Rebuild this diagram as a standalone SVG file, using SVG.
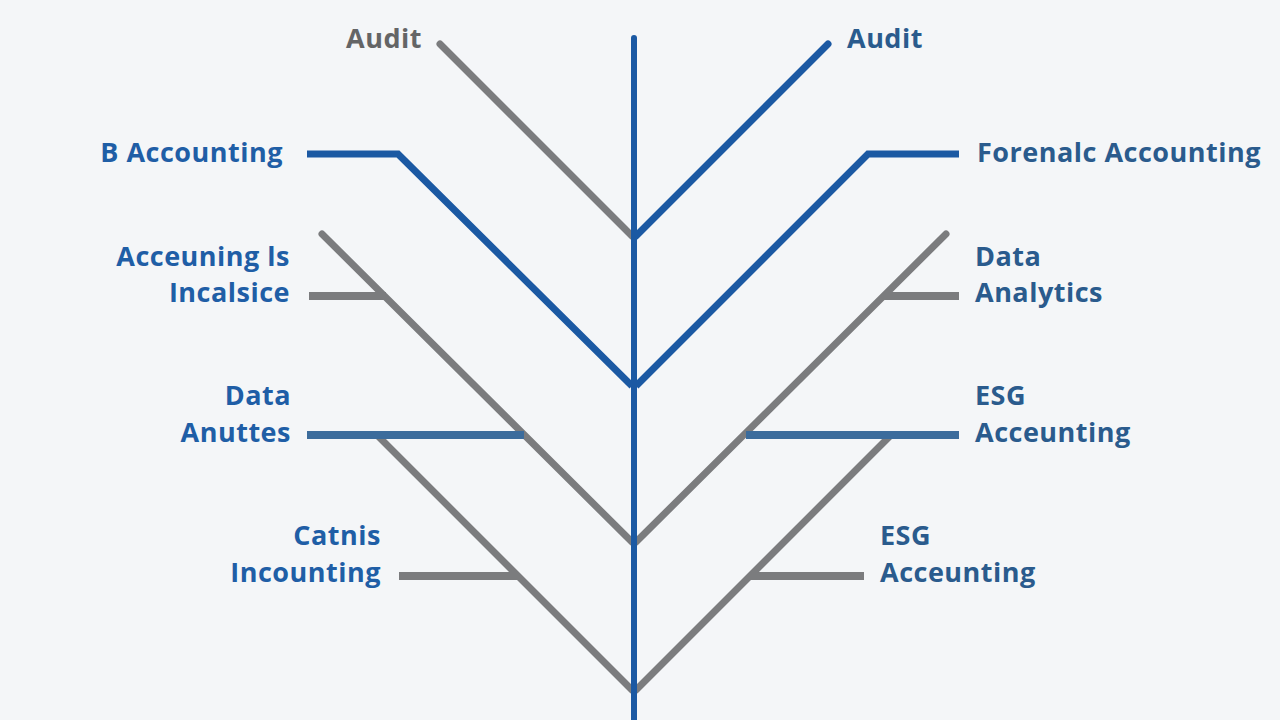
<svg xmlns="http://www.w3.org/2000/svg" width="1280" height="720" viewBox="0 0 1280 720">
<style>
.bl{fill:none;stroke:#1b59a3;stroke-width:7;stroke-linecap:round;stroke-linejoin:miter}
.gr{fill:none;stroke:#7b7c7e;stroke-width:7;stroke-linecap:round}
.bg{fill:none;stroke:#3c6c9c;stroke-width:8;stroke-linecap:butt}
.grh{fill:none;stroke:#7b7c7e;stroke-width:8;stroke-linecap:butt}
text{font-family:"Open Sans","Noto Sans","Liberation Sans",sans-serif;font-weight:700;font-size:27px;letter-spacing:0.5px}
.tl{fill:#1f5ea6}
.tr{fill:#2a5b8d}
.tg{fill:#646566}
</style>
<rect width="1280" height="720" fill="#f4f6f8"/>
<g id="connectors">
<line class="gr" x1="440" y1="44" x2="632" y2="236"/>
<line class="gr" x1="322" y1="234" x2="632" y2="542"/>
<line class="gr" x1="378" y1="436" x2="632" y2="690"/>
<line class="gr" x1="946" y1="234" x2="636" y2="542"/>
<line class="gr" x1="890" y1="436" x2="636" y2="690"/>
<line class="grh" x1="309" y1="296" x2="386" y2="296"/>
<line class="grh" x1="399" y1="576" x2="518" y2="576"/>
<line class="grh" x1="959" y1="296" x2="884" y2="296"/>
<line class="grh" x1="864" y1="576" x2="751" y2="576"/>
<line class="bg" x1="307" y1="435" x2="524" y2="435"/>
<line class="bg" x1="959" y1="435" x2="746" y2="435"/>
<line class="bl" x1="828" y1="44" x2="636" y2="236"/>
<polyline class="bl" points="307,154 398,154 632,386" style="stroke-linecap:butt"/>
<polyline class="bl" points="959,154 868,154 636,386" style="stroke-linecap:butt"/>
<line class="bl" x1="634" y1="38" x2="634" y2="720" style="stroke-width:6"/>
</g>
<g id="n-audit-left"><text class="tg" x="422" y="48" text-anchor="end">Audit</text></g>
<g id="n-audit-right"><text class="tr" x="847" y="48">Audit</text></g>
<g id="n-b-accounting"><text class="tl" x="283" y="162" text-anchor="end" font-size="28">B Accounting</text></g>
<g id="n-forensic"><text class="tr" x="977" y="162">Forenalc Accounting</text></g>
<g id="n-acceuning"><text class="tl" x="290" y="266" text-anchor="end">Acceuning ls</text><text class="tl" x="290" y="302" text-anchor="end">Incalsice</text></g>
<g id="n-data-left"><text class="tl" x="291" y="405" text-anchor="end">Data</text><text class="tl" x="291" y="442" text-anchor="end">Anuttes</text></g>
<g id="n-catnis"><text class="tl" x="381" y="545" text-anchor="end">Catnis</text><text class="tl" x="381" y="582" text-anchor="end">Incounting</text></g>
<g id="n-data-right"><text class="tr" x="975" y="266">Data</text><text class="tr" x="975" y="302">Analytics</text></g>
<g id="n-esg-1"><text class="tr" x="975" y="405">ESG</text><text class="tr" x="975" y="442">Acceunting</text></g>
<g id="n-esg-2"><text class="tr" x="880" y="545">ESG</text><text class="tr" x="880" y="582">Acceunting</text></g>
</svg>
